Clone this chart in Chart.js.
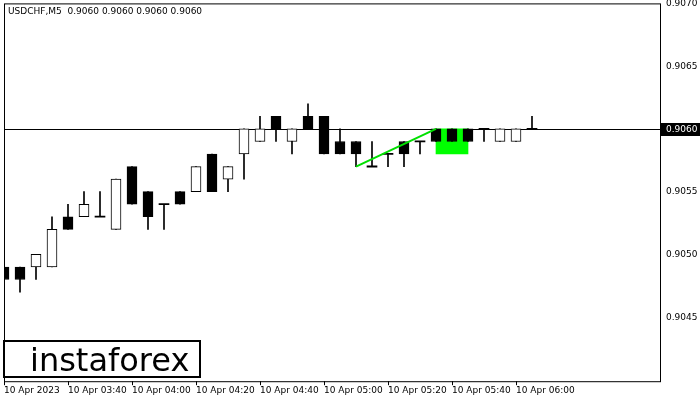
<!DOCTYPE html>
<html><head><script src="https://cdn.jsdelivr.net/npm/chart.js"></script>
<style>body{margin:0;background:#fff;overflow:hidden}#v{width:700px;height:400px;overflow:hidden;position:relative}#w{width:700px;height:408px;position:absolute;top:-8px;left:0}</style></head>
<body><div id="v"><div id="w"><canvas id="c"></canvas></div></div>
<script>
const timeLabels=["10 Apr 2023","10 Apr 03:40","10 Apr 04:00","10 Apr 04:20","10 Apr 04:40","10 Apr 05:00","10 Apr 05:20","10 Apr 05:40","10 Apr 06:00"];
const opens =[0.9049,0.9049,0.9049,0.9049,0.9053,0.9053,0.9053,0.9052,0.9057,0.9055,0.9054,0.9055,0.9055,0.9058,0.9056,0.9058,0.9059,0.9061,0.9059,0.9061,0.9061,0.9059,0.9059,0.9057,0.9058,0.9059,0.9059,0.9060,0.9060,0.9060,0.9060,0.9059,0.9059,0.9060];
const highs =[0.9049,0.9049,0.9050,0.9053,0.9054,0.9055,0.9055,0.9056,0.9057,0.9055,0.9054,0.9055,0.9057,0.9058,0.9057,0.9060,0.9061,0.9061,0.9060,0.9062,0.9061,0.9060,0.9059,0.9059,0.9058,0.9059,0.9059,0.9060,0.9060,0.9060,0.9060,0.9060,0.9060,0.9061];
const lows  =[0.9047,0.9047,0.9048,0.9049,0.9052,0.9053,0.9053,0.9052,0.9054,0.9052,0.9052,0.9054,0.9055,0.9055,0.9055,0.9056,0.9059,0.9059,0.9058,0.9060,0.9058,0.9058,0.9057,0.9057,0.9057,0.9057,0.9058,0.9059,0.9059,0.9059,0.9059,0.9059,0.9059,0.9060];
const closes=[0.9048,0.9048,0.9050,0.9052,0.9052,0.9054,0.9053,0.9056,0.9054,0.9053,0.9054,0.9054,0.9057,0.9055,0.9057,0.9060,0.9060,0.9060,0.9060,0.9060,0.9058,0.9058,0.9058,0.9057,0.9058,0.9058,0.9059,0.9059,0.9059,0.9059,0.9060,0.9060,0.9060,0.9060];
const yTicks=[0.9045,0.9050,0.9055,0.9060,0.9065,0.9070];
const patternZone={x:28,low:0.9058,high:0.9060};
const trendLine=[{x:22,y:0.9057},{x:27,y:0.9060}];
const currentPrice=0.9060;

const idx=opens.map((_,i)=>i);
const wicks=idx.map(i=>({x:i,y:[lows[i],highs[i]]}));
const isDoji=idx.map(i=>Math.abs(opens[i]-closes[i])<0.000004);
const bodies=idx.map(i=>{let a=Math.min(opens[i],closes[i]),b=Math.max(opens[i],closes[i]);if(isDoji[i]){a-=0.000004;b=a+0.000009;}return {x:i,y:[a,b]};});
const bodyCol=idx.map(i=>isDoji[i]||closes[i]<opens[i]?'#000':'#fff');
const bodyBorder=idx.map(i=>isDoji[i]?0:1);
const OFF=8;

const extra={id:'extra',
 beforeDatasetsDraw(ch){const {ctx,chartArea:a,scales:{y}}=ch;const yy=Math.round(y.getPixelForValue(currentPrice))+0.5;
  ctx.save();ctx.strokeStyle='#000';ctx.lineWidth=1;ctx.beginPath();ctx.moveTo(a.left,yy);ctx.lineTo(a.right,yy);ctx.stroke();ctx.restore();},
 afterDraw(ch){const {ctx,chartArea:a,scales:{x,y}}=ch;ctx.save();
  ctx.strokeStyle='#000';ctx.lineWidth=1;ctx.strokeRect(a.left+0.5,a.top+0.5,a.right-a.left,a.bottom-a.top);
  ctx.beginPath();timeLabels.forEach((_,k)=>{const px=Math.round(x.getPixelForValue(k*4))+0.5;ctx.moveTo(px,a.bottom);ctx.lineTo(px,a.bottom+4);});ctx.stroke();
  const yy=Math.round(y.getPixelForValue(currentPrice));
  ctx.fillStyle='#000';ctx.fillRect(a.right+1,yy-6,40,13);
  ctx.fillStyle='#fff';ctx.font='9px "DejaVu Sans"';ctx.textBaseline='middle';ctx.fillText(currentPrice.toFixed(4),a.right+6,yy+1);
  ctx.fillStyle='#000';ctx.font='9px "DejaVu Sans"';ctx.textBaseline='alphabetic';
  ctx.fillText('USDCHF,M5  0.9060 0.9060 0.9060 0.9060',8,14+OFF);
  ctx.fillStyle='#fff';ctx.fillRect(3,340+OFF,198,38);ctx.lineWidth=2;ctx.strokeRect(4,341+OFF,196,36);
  ctx.fillStyle='#000';ctx.font='32px "DejaVu Sans"';ctx.fillText('instaforex',30,371+OFF);
  ctx.restore();}};

new Chart(document.getElementById('c'),{
 data:{datasets:[
  {type:'bar',data:[{x:patternZone.x,y:[patternZone.low,patternZone.high]}],backgroundColor:'#00ff00',barThickness:32,grouped:false,order:3},
  {type:'bar',data:wicks,backgroundColor:'#000',barThickness:1,grouped:false,order:2},
  {type:'bar',data:bodies,backgroundColor:bodyCol,borderColor:'#000',borderWidth:bodyBorder,borderSkipped:false,barThickness:10,grouped:false,order:1},
  {type:'line',data:trendLine,borderColor:'#00e000',borderWidth:2,pointRadius:0,order:0}
 ]},
 options:{responsive:true,maintainAspectRatio:false,animation:false,
  layout:{padding:{top:0,left:0,right:0,bottom:0}},
  plugins:{legend:{display:false},tooltip:{enabled:false}},
  scales:{
   x:{type:'linear',min:0,max:41,offset:false,grid:{display:false,drawTicks:false},border:{display:false},
     afterBuildTicks(s){s.ticks=timeLabels.map((_,k)=>({value:k*4}));},
     ticks:{align:'start',maxRotation:0,autoSkip:false,padding:4,color:'#000',font:{size:9,family:'DejaVu Sans'},callback:(v)=>timeLabels[v/4]}},
   y:{position:'right',min:0.90399,max:0.9070,grid:{display:false,drawTicks:false},border:{display:false},
     afterBuildTicks(s){s.ticks=yTicks.map(v=>({value:v}));},
     afterFit(s){s.width=40;},
     ticks:{padding:6,color:'#000',font:{size:9,family:'DejaVu Sans'},callback:v=>v.toFixed(4)}}
  }},
 plugins:[extra]});
</script></body></html>
